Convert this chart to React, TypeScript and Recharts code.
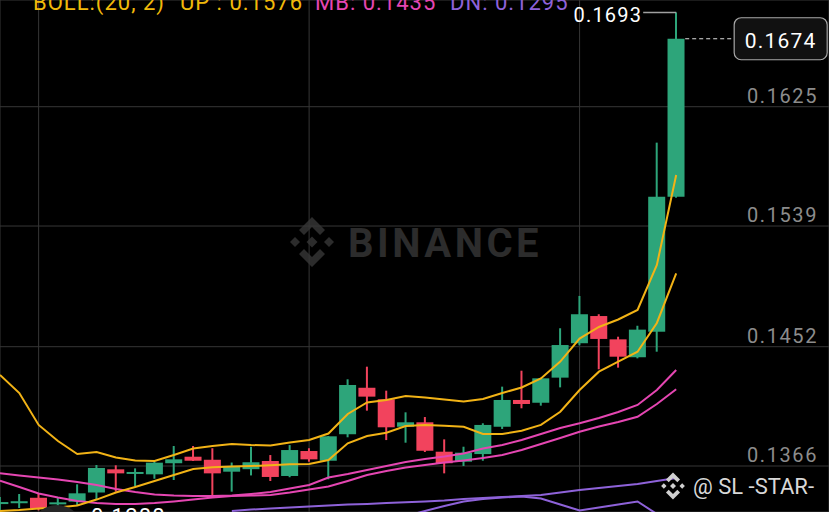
import React from "react";
import { ComposedChart, Bar, Line, XAxis, YAxis, CartesianGrid, ReferenceDot } from "recharts";

// candles, oldest first
const opens = [0.1339, 0.13399, 0.13431, 0.13392, 0.13403, 0.13469, 0.13636, 0.13609, 0.136, 0.1368, 0.13727, 0.13705, 0.13619, 0.13637, 0.13696, 0.13588, 0.13768, 0.13698, 0.13889, 0.14224, 0.14141, 0.13943, 0.13975, 0.13763, 0.13691, 0.13746, 0.13943, 0.14136, 0.14116, 0.14297, 0.14545, 0.14741, 0.14573, 0.14444, 0.14628, 0.15601];
const highs = [0.13437, 0.13458, 0.13458, 0.13431, 0.13528, 0.13667, 0.13665, 0.13643, 0.13691, 0.13804, 0.13804, 0.13788, 0.13685, 0.13799, 0.13739, 0.13811, 0.13788, 0.13876, 0.14285, 0.14376, 0.14203, 0.14047, 0.14013, 0.13852, 0.13799, 0.13968, 0.14232, 0.14347, 0.14294, 0.14653, 0.14886, 0.14754, 0.14592, 0.14671, 0.15991, 0.1693];
const lows = [0.1331, 0.13357, 0.1334, 0.1332, 0.13379, 0.13422, 0.13475, 0.13516, 0.13568, 0.13559, 0.13696, 0.13451, 0.13475, 0.13592, 0.13552, 0.13579, 0.13691, 0.13564, 0.13867, 0.14059, 0.13847, 0.13828, 0.13761, 0.13607, 0.1366, 0.13698, 0.13927, 0.14076, 0.14095, 0.14227, 0.1453, 0.14357, 0.14369, 0.14436, 0.14484, 0.15594];
const closes = [0.134, 0.13406, 0.13355, 0.13398, 0.13463, 0.13646, 0.13607, 0.13617, 0.13684, 0.13708, 0.13698, 0.13607, 0.13658, 0.13687, 0.13581, 0.13775, 0.13708, 0.13874, 0.14244, 0.1416, 0.13939, 0.13975, 0.1377, 0.1368, 0.13756, 0.13956, 0.14136, 0.14107, 0.14292, 0.14532, 0.14754, 0.14576, 0.14448, 0.14643, 0.15601, 0.1674];

// indicator lines
const bollUp = [0.14316, 0.14186, 0.13956, 0.1384, 0.13746, 0.13761, 0.13721, 0.137, 0.13696, 0.13739, 0.13786, 0.13804, 0.13819, 0.13811, 0.13808, 0.13829, 0.13847, 0.13894, 0.14035, 0.14118, 0.14136, 0.14165, 0.14154, 0.14139, 0.14125, 0.14143, 0.14186, 0.14226, 0.14291, 0.14413, 0.14579, 0.14662, 0.14716, 0.14785, 0.15109, 0.15758];
const yellowLow = [0.13336, 0.13343, 0.13354, 0.13361, 0.13375, 0.13418, 0.13469, 0.13509, 0.13552, 0.13595, 0.13638, 0.13651, 0.13656, 0.1366, 0.13665, 0.13672, 0.13674, 0.13703, 0.13824, 0.13876, 0.139, 0.13948, 0.13956, 0.1395, 0.13943, 0.13891, 0.13891, 0.13914, 0.13956, 0.14051, 0.14208, 0.1434, 0.14412, 0.14484, 0.14691, 0.15048];
const pinkUp = [0.13607, 0.13591, 0.13577, 0.13563, 0.13545, 0.13523, 0.13494, 0.13472, 0.13455, 0.13447, 0.13444, 0.13444, 0.13447, 0.13458, 0.13472, 0.13498, 0.13523, 0.13577, 0.13602, 0.13631, 0.1366, 0.13689, 0.1371, 0.13728, 0.1375, 0.13786, 0.13811, 0.13847, 0.13891, 0.13934, 0.13968, 0.14006, 0.14049, 0.141, 0.14208, 0.14352];
const pinkLow = [0.13554, 0.13509, 0.13462, 0.13433, 0.13408, 0.13393, 0.13386, 0.13386, 0.13393, 0.13404, 0.13418, 0.13433, 0.13444, 0.13447, 0.13451, 0.13469, 0.13491, 0.13512, 0.13552, 0.13595, 0.13624, 0.13649, 0.13667, 0.13685, 0.137, 0.13718, 0.13739, 0.13775, 0.13819, 0.13862, 0.13907, 0.13945, 0.13977, 0.14015, 0.14107, 0.14213];
const purpleUp = [null, null, null, null, null, null, null, null, null, null, null, null, 0.13336, 0.13346, 0.13354, 0.13361, 0.13368, 0.13375, 0.13382, 0.13386, 0.13393, 0.13398, 0.13404, 0.13411, 0.13422, 0.13429, 0.13436, 0.13444, 0.13451, 0.13469, 0.13487, 0.13501, 0.13516, 0.1353, 0.13552, 0.13573];
const purpleLow = [null, null, null, null, null, null, null, null, null, null, null, null, null, null, null, null, null, null, null, null, 0.13256, 0.13299, 0.13336, 0.13372, 0.13404, 0.13422, 0.13433, 0.1344, 0.13426, 0.13382, 0.13339, 0.13361, 0.13382, 0.13404, 0.13314, 0.13271];

const priceTicks = [0.1366, 0.1452, 0.1539, 0.1625];
const timeGrid = [2, 16, 30];
const highMark = 0.1693;
const lastPrice = 0.1674;
const headerItems = [
  { text: "BOLL:(20, 2)", x: 33, color: "#F0B90B" },
  { text: "UP : 0.1576", x: 180, color: "#F0B90B" },
  { text: "MB: 0.1435", x: 315, color: "#E546B2" },
  { text: "DN: 0.1295", x: 450, color: "#8E62D9" },
];

const GREEN = "#2DA57A";
const RED = "#F2435D";
const YELLOW = "#F2B316";
const PINK = "#E546B2";
const PURPLE = "#8E62D9";
const FONT = "Roboto, 'Noto Sans', sans-serif";

const data = opens.map((o, i) => ({
  i,
  o,
  h: highs[i],
  l: lows[i],
  c: closes[i],
  range: [lows[i], highs[i]],
  up: bollUp[i],
  ylow: yellowLow[i],
  pup: pinkUp[i],
  plow: pinkLow[i],
  vup: purpleUp[i],
  vlow: purpleLow[i],
}));

const Candle = (props: any) => {
  const { x, y, width, height, payload } = props;
  const { o, h, l, c } = payload;
  const top = Math.min(y, y + height);
  const span = Math.abs(height);
  const k = span / (h - l);
  const bodyTop = top + (h - Math.max(o, c)) * k;
  const bodyBot = top + (h - Math.min(o, c)) * k;
  const cx = x + width / 2;
  const color = c >= o ? GREEN : RED;
  return (
    <g>
      <line x1={cx} x2={cx} y1={top} y2={top + span} stroke={color} strokeWidth={2} />
      <rect x={x} y={bodyTop} width={width} height={Math.max(bodyBot - bodyTop, 2)} fill={color} />
    </g>
  );
};

const PriceTick = (props: any) => {
  const { y, payload } = props;
  return (
    <text x={818} y={y - 4} textAnchor="end" fill="#8c8c8c" fontSize={20} letterSpacing={1.6} fontFamily={FONT}>
      {Number(payload.value).toFixed(4)}
    </text>
  );
};

const Logo = ({ cx, cy, s, fill }: { cx: number; cy: number; s: number; fill: string }) => {
  const d = (x: number, y: number, r: number) =>
    `${x},${y - r} ${x + r},${y} ${x},${y + r} ${x - r},${y}`;
  const chevron = (dir: number) =>
    [
      [cx, cy - dir * s],
      [cx + 0.52 * s, cy - dir * 0.48 * s],
      [cx + 0.32 * s, cy - dir * 0.28 * s],
      [cx, cy - dir * 0.6 * s],
      [cx - 0.32 * s, cy - dir * 0.28 * s],
      [cx - 0.52 * s, cy - dir * 0.48 * s],
    ]
      .map((p) => p.join(","))
      .join(" ");
  return (
    <g fill={fill}>
      <polygon points={d(cx, cy, 0.22 * s)} />
      <polygon points={d(cx - 0.68 * s, cy, 0.2 * s)} />
      <polygon points={d(cx + 0.68 * s, cy, 0.2 * s)} />
      <polygon points={chevron(1)} />
      <polygon points={chevron(-1)} />
    </g>
  );
};

const lineProps = {
  type: "linear" as const,
  strokeWidth: 2,
  dot: false,
  activeDot: false,
  isAnimationActive: false,
};

export default function App() {
  return (
    <div style={{ position: "relative", width: 829, height: 512, background: "#000", overflow: "hidden" }}>
      <style>{"body{margin:0;background:#000}"}</style>
      <svg width={829} height={512} style={{ position: "absolute", left: 0, top: 0 }}>
        <Logo cx={312} cy={242} s={25} fill="#2c2c2c" />
        <text x={348} y={257} fill="#2c2c2c" fontSize={40} fontWeight={700} letterSpacing={3.5} fontFamily={FONT}>
          BINANCE
        </text>
      </svg>
      <div style={{ position: "absolute", left: 0, top: 0 }}>
        <ComposedChart width={829} height={512} data={data} margin={{ top: 0, right: 0, bottom: 0, left: 0 }}>
          <CartesianGrid stroke="#363636" strokeWidth={1} />
          <XAxis type="number" dataKey="i" domain={[0, 42.91]} ticks={timeGrid} hide allowDataOverflow />
          <YAxis
            orientation="right"
            mirror
            domain={[0.133284, 0.170193]}
            ticks={priceTicks}
            allowDataOverflow
            axisLine={false}
            tickLine={false}
            tick={<PriceTick />}
          />
          <Bar dataKey="range" barSize={17} shape={<Candle />} activeBar={false} isAnimationActive={false} />
          <Line {...lineProps} dataKey="vup" stroke={PURPLE} />
          <Line {...lineProps} dataKey="vlow" stroke={PURPLE} />
          <Line {...lineProps} dataKey="pup" stroke={PINK} />
          <Line {...lineProps} dataKey="plow" stroke={PINK} />
          <Line {...lineProps} dataKey="ylow" stroke={YELLOW} />
          <Line {...lineProps} dataKey="up" stroke={YELLOW} />
          <ReferenceDot
            x={35}
            y={highMark}
            ifOverflow="visible"
            shape={(p: any) => (
              <g>
                <line x1={p.cx - 33} x2={p.cx} y1={p.cy} y2={p.cy} stroke="#a0a0a0" strokeWidth={1.5} />
                <text x={p.cx - 34} y={p.cy + 10} textAnchor="end" fill="#ffffff" fontSize={20} letterSpacing={1.2} fontFamily={FONT}>
                  {highMark.toFixed(4)}
                </text>
              </g>
            )}
          />
          <ReferenceDot
            x={35}
            y={lastPrice}
            ifOverflow="visible"
            shape={(p: any) => (
              <g>
                <line x1={p.cx + 9} x2={p.cx + 57} y1={p.cy} y2={p.cy} stroke="#dddddd" strokeWidth={1.2} strokeDasharray="4 3" />
                <rect x={p.cx + 58} y={p.cy - 21} width={93} height={42} rx={7} fill="#111111" stroke="#a8a8a8" strokeWidth={1.2} />
                <text x={p.cx + 104.5} y={p.cy + 9} textAnchor="middle" fill="#ffffff" fontSize={21} letterSpacing={1.2} fontFamily={FONT}>
                  {lastPrice.toFixed(4)}
                </text>
              </g>
            )}
          />
        </ComposedChart>
      </div>
      <svg width={829} height={512} style={{ position: "absolute", left: 0, top: 0, pointerEvents: "none" }}>
        {headerItems.map((h) => (
          <text key={h.text} x={h.x} y={10} fill={h.color} fontSize={22} letterSpacing={1} fontFamily={FONT}>
            {h.text}
          </text>
        ))}
        <circle cx={57} cy={531} r={26} fill="#262626" />
        <text x={91} y={524} fill="#ffffff" fontSize={22} letterSpacing={1.2} fontFamily={FONT}>
          0.1288
        </text>
        <Logo cx={673} cy={486} s={13.5} fill="#d0d0d0" />
        <text x={693} y={494} fill="#d8d8d8" fontSize={22} fontFamily={FONT}>
          @ SL -STAR-
        </text>
      </svg>
    </div>
  );
}
